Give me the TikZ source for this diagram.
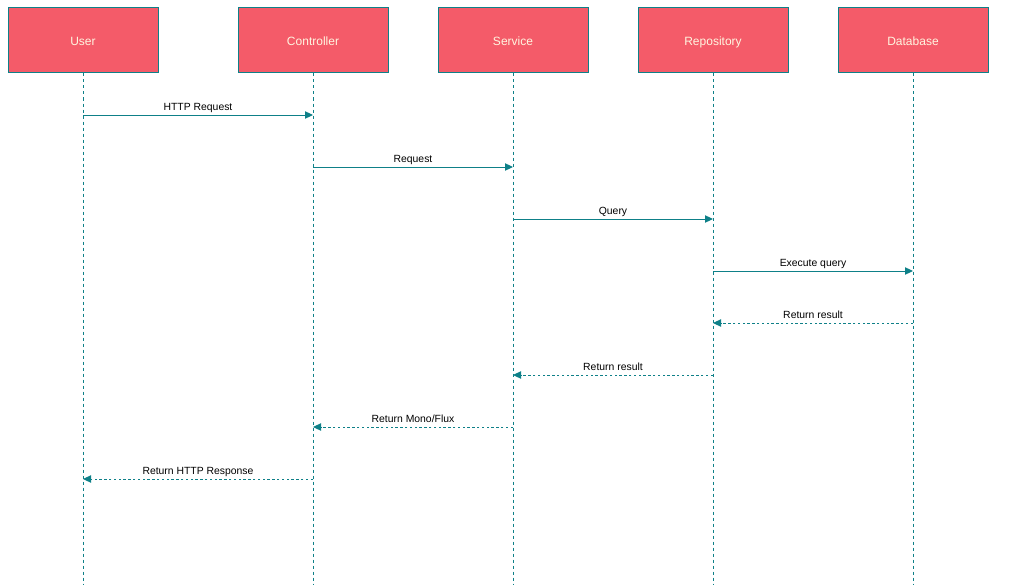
\documentclass[tikz,border=0pt]{standalone}
\usepackage{fontspec}
\setmainfont{Liberation Sans}
\usetikzlibrary{arrows.meta}

\definecolor{boxred}{HTML}{F45B69}
\definecolor{tealline}{HTML}{0E8088}
\definecolor{boxtext}{HTML}{FFF5E0}

\tikzset{
  actor/.style={draw=tealline, line width=0.75pt, fill=boxred, text=boxtext,
    minimum width=112.5pt, minimum height=48.75pt, inner sep=0pt,
    text height=9.2pt, text depth=1.9pt,
    font=\fontsize{9}{11}\selectfont},
  lifeline/.style={draw=tealline, line width=0.7pt, dash pattern=on 2.25pt off 2.25pt},
  call/.style={draw=tealline, line width=0.75pt, -{Triangle[length=6pt, width=5.5pt]}},
  reply/.style={call, dash pattern=on 1.8pt off 1.8pt},
  msglabel/.style={above, midway, inner sep=0pt, outer sep=0pt, yshift=3.6pt,
    text depth=0pt, text=black, font=\fontsize{7.8}{9}\selectfont}
}

\begin{document}
\begin{tikzpicture}[x=0.75pt, y=-0.75pt]
  \useasboundingbox (0,0) rectangle (1024,585);

  % Participants
  \foreach \name/\label/\xpos in {user/User/83, controller/Controller/313,
      service/Service/513, repository/Repository/713, database/Database/913} {
    \node[actor] (\name) at (\xpos,40.5) {\label};
    \coordinate (\name-end) at (\xpos,585);
    \draw[lifeline] (\name.south) -- (\name-end);
  }

  % Requests
  \draw[call] (user |- 0,115) -- (controller |- 0,115) node[msglabel] {HTTP Request};
  \draw[call] (controller |- 0,167) -- (service |- 0,167) node[msglabel] {Request};
  \draw[call] (service |- 0,219) -- (repository |- 0,219) node[msglabel] {Query};
  \draw[call] (repository |- 0,271) -- (database |- 0,271) node[msglabel] {Execute query};

  % Replies
  \draw[reply] (database |- 0,323) -- (repository |- 0,323) node[msglabel] {Return result};
  \draw[reply] (repository |- 0,375) -- (service |- 0,375) node[msglabel] {Return result};
  \draw[reply] (service |- 0,427) -- (controller |- 0,427) node[msglabel] {Return Mono/Flux};
  \draw[reply] (controller |- 0,479) -- (user |- 0,479) node[msglabel] {Return HTTP Response};
\end{tikzpicture}
\end{document}
